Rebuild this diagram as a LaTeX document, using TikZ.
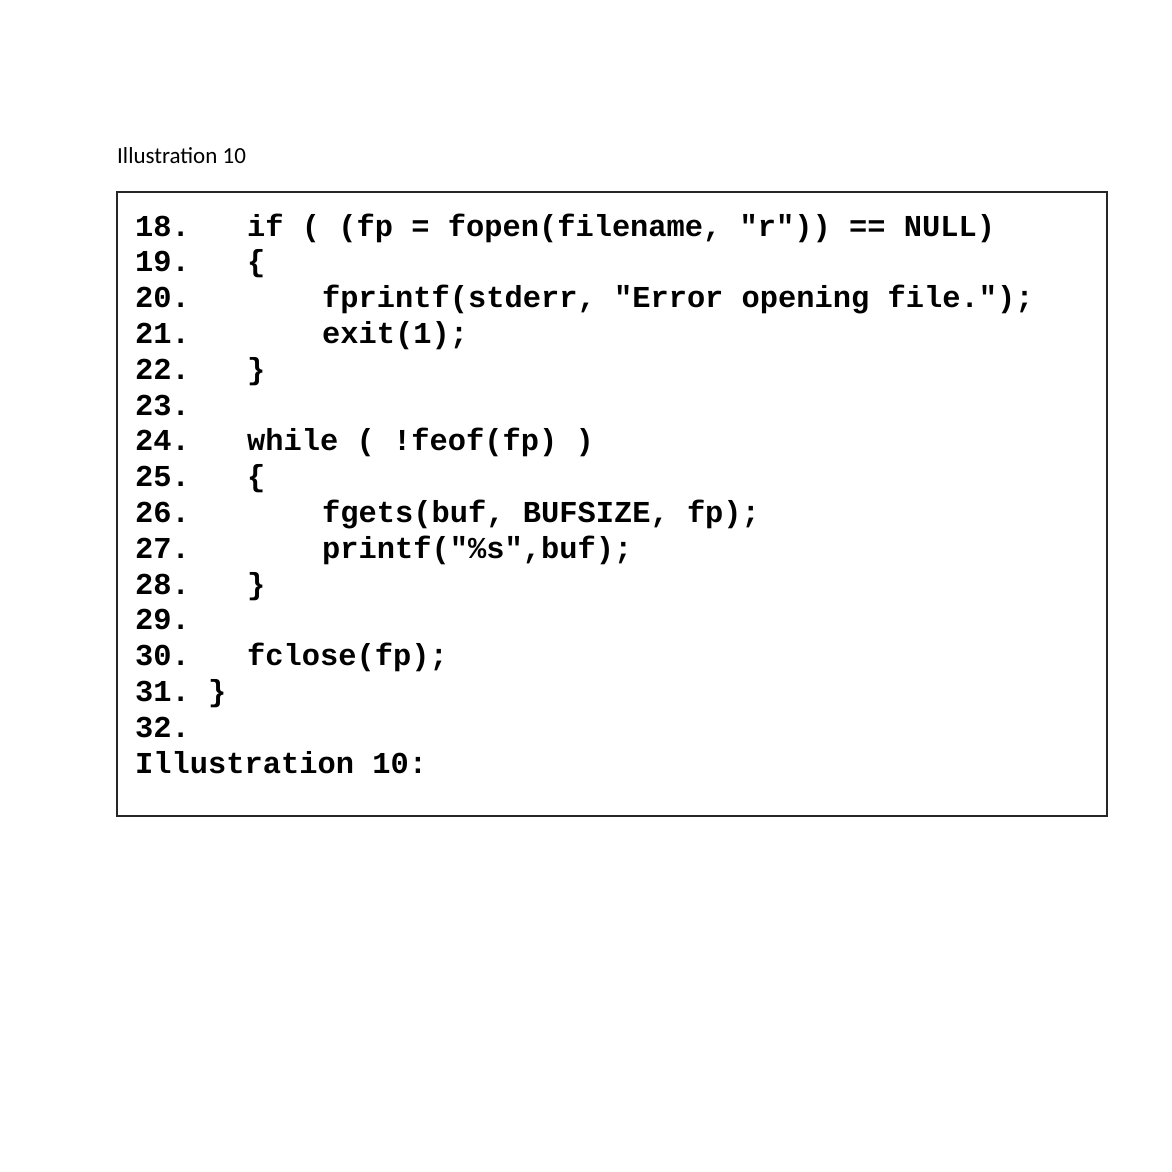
\documentclass[tikz,border=0pt]{standalone}
\usepackage{fontspec}
\newfontfamily\codef{Liberation Mono}
\newfontfamily\titlef{Carlito}
\begin{document}
\begin{tikzpicture}[x=1pt,y=-1pt,
  code/.style={anchor=base west,inner sep=0pt,font=\codef\bfseries\fontsize{30.4}{32}\selectfont},
  ttl/.style={anchor=base west,inner sep=0pt,font=\titlef\fontsize{23}{26}\selectfont}]
\useasboundingbox (0,0) rectangle (1172,1172);
\fill[white] (0,0) rectangle (1172,1172);
\node[ttl] (title) at (117,163) {Illustration 10};
\draw[line width=1.5pt,draw=black!85] (117,192) rectangle (1107,816);
\foreach \n [count=\i from 0] in {18,...,32}{
  \node[code] (n\n) at (135,{236+35.8*\i}) {\n.};
}
\node[code] (c18) at (247,236) {if ( (fp = fopen(filename, "r")) == NULL)};
\node[code] (c19) at (247,271.8) {\{};
\node[code] (c20) at (322,307.6) {fprintf(stderr, "Error opening file.");};
\node[code] (c21) at (322,343.4) {exit(1);};
\node[code] (c22) at (247,379.2) {\}};
\node[code] (c24) at (247,450.8) {while ( !feof(fp) )};
\node[code] (c25) at (247,486.6) {\{};
\node[code] (c26) at (322,522.4) {fgets(buf, BUFSIZE, fp);};
\node[code] (c27) at (322,558.2) {printf("\%s",buf);};
\node[code] (c28) at (247,594) {\}};
\node[code] (c30) at (247,665.6) {fclose(fp);};
\node[code] (c31) at (208,701.4) {\}};
\node[code] (ill) at (135,773) {Illustration 10:};
\end{tikzpicture}
\end{document}
